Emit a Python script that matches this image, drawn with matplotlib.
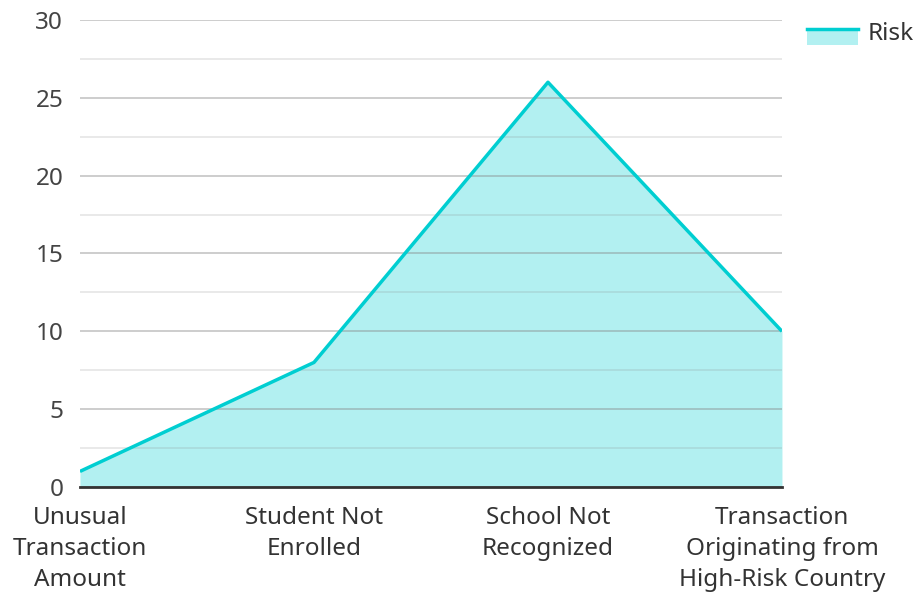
import matplotlib
matplotlib.use("Agg")
import matplotlib.pyplot as plt
from matplotlib.patches import Rectangle
from matplotlib.lines import Line2D
from matplotlib.legend_handler import HandlerBase

categories = ["Unusual\nTransaction\nAmount", "Student Not\nEnrolled",
              "School Not\nRecognized", "Transaction\nOriginating from\nHigh-Risk Country"]
risk = [1, 8, 26, 10]
yticks = [0, 5, 10, 15, 20, 25, 30]

plt.rcParams['font.family'] = ['Noto Sans', 'DejaVu Sans']
line_color = "#00CED1"
fill_color = "#B2F0F1"
FS = 17.5

fig = plt.figure(figsize=(9.15, 5.93), dpi=100)
ax = fig.add_axes([0.0874, 0.1788, 0.7672, 0.7875])
x = list(range(len(categories)))
ax.fill_between(x, risk, 0, color=fill_color, lw=0, zorder=1)
ax.plot(x, risk, color=line_color, lw=2.5, zorder=3, solid_capstyle='butt')

ax.set_xlim(0, len(categories) - 1)
ax.set_ylim(0, 30)
ax.set_yticks(yticks)
ax.set_yticks([2.5, 7.5, 12.5, 17.5, 22.5, 27.5], minor=True)
ax.grid(True, which='major', axis='y', color='#888888', alpha=0.45, lw=1.3, zorder=2)
ax.grid(True, which='minor', axis='y', color='#888888', alpha=0.2, lw=1.3, zorder=2)
ax.set_axisbelow(False)
ax.set_xticks(x)
ax.set_xticklabels(categories, fontsize=FS, color='#333333', linespacing=1.38)
ax.tick_params(axis='y', labelsize=FS, labelcolor='#444444', length=0, pad=12)
ax.tick_params(axis='x', length=0, pad=14)
ax.tick_params(which='minor', length=0)
for s in ['top', 'right', 'left']:
    ax.spines[s].set_visible(False)
ax.spines['bottom'].set_color('#333333')
ax.spines['bottom'].set_linewidth(2)
ax.spines['bottom'].set_zorder(4)


class AreaHandler(HandlerBase):
    def create_artists(self, legend, orig_handle, xdescent, ydescent, width, height, fontsize, trans):
        y0 = -ydescent - 4
        r = Rectangle((-xdescent, y0), width, height, facecolor=fill_color, lw=0, transform=trans)
        l = Line2D([-xdescent, -xdescent + width], [y0 + height, y0 + height],
                   color=line_color, lw=2.5, transform=trans)
        return [r, l]


h = Rectangle((0, 0), 1, 1)
leg = fig.legend([h], ["Risk"], handler_map={Rectangle: AreaHandler()},
                 loc='upper left', bbox_to_anchor=(0.882, 0.963), frameon=False,
                 fontsize=FS, handlelength=2.1, handleheight=0.6, handletextpad=0.38,
                 borderpad=0, borderaxespad=0)
for t in leg.get_texts():
    t.set_color('#333333')

fig.savefig("out.png", dpi=100)
